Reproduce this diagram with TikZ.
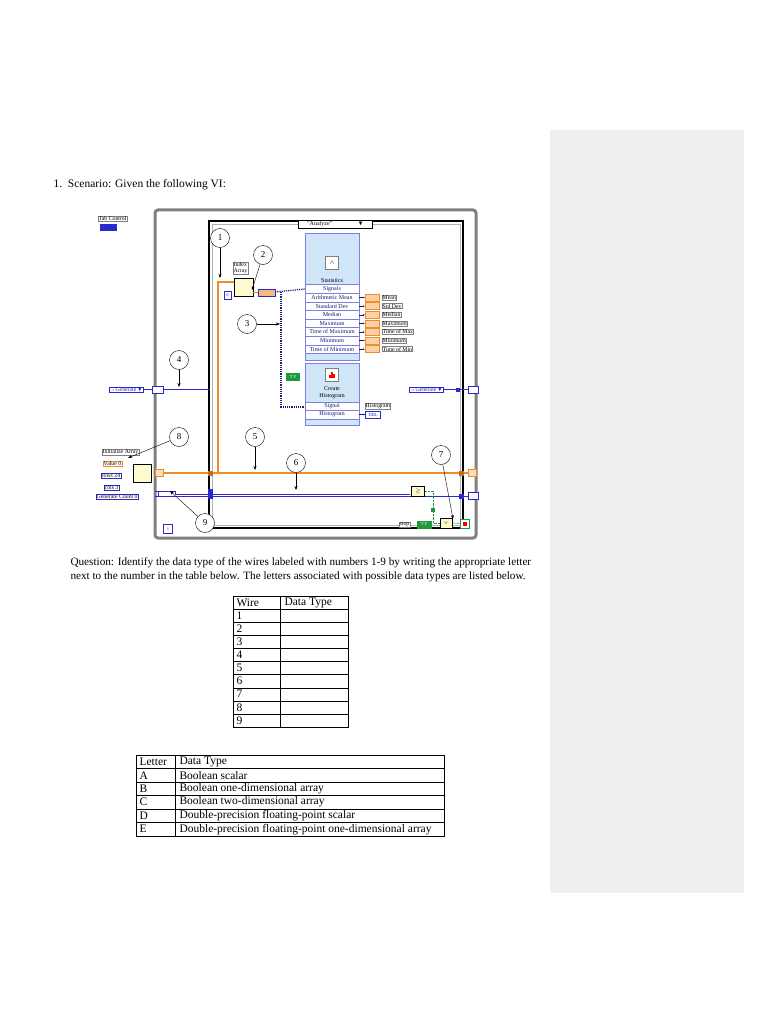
\documentclass[tikz,border=0pt]{standalone}
\usepackage{amssymb}
\usepackage{fontspec}
\setmainfont{Liberation Serif}
\usetikzlibrary{arrows.meta}
\definecolor{lvorange}{HTML}{F28C28}
\definecolor{lvblue}{HTML}{2A2ACC}
\definecolor{lvdark}{HTML}{1A1A7A}
\definecolor{lvpanel}{HTML}{CFE6F8}
\definecolor{lvyellow}{HTML}{FFFBD0}
\definecolor{lvgreen}{HTML}{1E9A3C}
\definecolor{sidegray}{HTML}{EFEFEF}
\tikzset{
  lbl/.style={draw=gray,fill=white,inner sep=0.5pt,font=\fontsize{5.8}{6.2}\selectfont,anchor=west},
  row/.style={draw=lvblue!60,fill=white,minimum width=54pt,minimum height=8.6pt,inner sep=0pt,font=\fontsize{6}{6}\selectfont,text=lvdark},
  ind/.style={draw=lvorange,fill=lvorange!40,minimum width=14pt,minimum height=7pt,inner sep=0pt},
  callout/.style={circle,draw,fill=white,minimum size=19pt,inner sep=0pt,font=\fontsize{9}{9}\selectfont},
  pointer/.style={-{Stealth[length=4pt]},thin},
  owire/.style={lvorange,line width=1.3pt},
  bwire/.style={lvblue,line width=0.7pt},
  body/.style={anchor=west,font=\fontsize{11.5}{12}\selectfont}
}
\begin{document}
\begin{tikzpicture}[x=1pt,y=-1pt]
\useasboundingbox (0,0) rectangle (768,1024);
\fill[sidegray] (550,130) rectangle (744,893);
\node[body] (title) at (50,185) {1.\enspace Scenario: Given the following VI:};

% while loop and case structure
\draw[gray,line width=3pt,rounded corners=3pt] (155,210) rectangle (476,538);
\draw[black,line width=2pt] (209,221) rectangle (463,528);
\draw[gray!60,line width=0.5pt] (212,224) rectangle (460,525);
\node[draw,fill=white,minimum width=74pt,minimum height=8pt,inner sep=0pt,font=\fontsize{6}{6}\selectfont] (sel) at (335,224) {"Analyze"\hspace{26pt}$\blacktriangledown$};
\node[lbl] (tab) at (98,219) {Tab Control};
\node[fill=lvblue,minimum width=17pt,minimum height=7pt,inner sep=0pt] (tabc) at (108,228) {};

% wires (drawn first)
\draw[owire] (155,473) -- (475,473);
\draw[owire] (218,473) -- (218,282) -- (234,282);
\draw[bwire] (163,389) -- (210,389);
\draw[bwire] (155,491) -- (175,491) -- (175,494) -- (410,494);
\draw[bwire] (155,496) -- (475,496);
\draw[bwire] (158,491) -- (158,496);
\draw[lvdark,line width=1.2pt,densely dotted] (275,292) -- (305,289);
\draw[lvdark,line width=1.2pt,densely dotted] (281,292) -- (281,407) -- (305,407);
\draw[lvgreen,densely dotted] (425,491) -- (433,491) -- (433,523) -- (440,523);

% statistics express VI
\node[draw=lvblue!60,fill=lvpanel,minimum width=54pt,minimum height=127pt,inner sep=0pt,anchor=north] (stat) at (332,233) {};
\node[draw=gray,fill=white,minimum size=13pt,inner sep=0pt] (staticon) at (332,263) {\fontsize{6}{6}\selectfont$\wedge$};
\node[font=\fontsize{6}{6}\selectfont] (stattxt) at (332,281) {Statistics};
\foreach \t [count=\i] in {Signals,Arithmetic Mean,Standard Dev,Median,Maximum,Time of Maximum,Minimum,Time of Minimum}
  \node[row] (r\i) at (332,280.3+8.6*\i) {\t};
\foreach \t [count=\i from 2] in {Mean,Std Dev,Median,Maximum,Time of Max,Minimum,Time of Min}{
  \node[ind] (i\i) at (372,280.3+8.6*\i) {};
  \node[lbl] (l\i) at (382,280.3+8.6*\i) {\t};
  \draw[lvdark,-{Stealth[length=2pt]}] (r\i.east) -- (i\i.west);
}

% create histogram express VI
\node[draw=lvblue!60,fill=lvpanel,minimum width=54pt,minimum height=62pt,inner sep=0pt,anchor=north] (hist) at (332,363) {};
\node[draw=gray,fill=white,minimum size=13pt,inner sep=0pt] (histicon) at (332,375) {\textcolor{red}{\rule{2pt}{3pt}\rule{2pt}{6pt}\rule{2pt}{4pt}}};
\node[font=\fontsize{6}{7}\selectfont,align=center] (histtxt) at (332,393) {Create\\Histogram};
\node[row] (h1) at (332,406) {Signal};
\node[row] (h2) at (332,414.6) {Histogram};
\node[lbl] (hl) at (365,406) {Histogram};
\node[draw=lvblue,fill=white,minimum width=15pt,minimum height=7pt,inner sep=0pt,font=\fontsize{4.5}{4.5}\selectfont,text=lvblue] (hi) at (373,414.6) {DBL};
\draw[lvdark,-{Stealth[length=2pt]}] (h2.east) -- (hi.west);
\node[fill=lvgreen,minimum width=14pt,minimum height=8pt,inner sep=0pt,text=white,font=\fontsize{4.5}{4.5}\selectfont] (tf) at (293,377) {T F};

% index array
\node[lbl,align=left] (idxl) at (233,268) {Index\\Array};
\node[draw,fill=lvyellow,minimum width=19pt,minimum height=18pt,inner sep=0pt] (idx) at (243.5,287) {};
\node[draw=lvblue,fill=white,minimum width=7pt,minimum height=8pt,inner sep=0pt,font=\fontsize{4.5}{4.5}\selectfont,text=lvblue] (zero) at (227.5,295) {0};
\node[draw=lvblue,fill=lvorange!60,minimum width=17pt,minimum height=7pt,inner sep=0pt] (idxout) at (266.5,292.5) {};
\draw[owire] (253,292.5) -- (idxout.west);

% generate controls
\node[lbl,draw=lvblue,text=lvblue] (genl) at (109,389.5) {\textrightarrow Generate\,$\blacktriangledown$};
\node[draw=lvblue,fill=white,minimum width=11pt,minimum height=7pt,inner sep=0pt] (genlt) at (157.5,389.5) {};
\node[lbl,draw=lvblue,text=lvblue] (genr) at (409,389.5) {\textrightarrow Generate\,$\blacktriangledown$};
\node[fill=lvblue,minimum size=4pt,inner sep=0pt] (genrs) at (458,389.5) {};
\node[draw=lvblue,fill=white,minimum width=10pt,minimum height=7pt,inner sep=0pt] (genrt) at (473,389.5) {};
\draw[bwire] (genl.east) -- (genlt.west);
\draw[bwire] (genr.east) -- (genrs) -- (genrt.west);

% initialize array
\node[lbl] (initl) at (102,452) {Initialize Array};
\node[lbl,draw=lvorange] (val) at (103,464) {Value 0};
\node[lbl,draw=lvblue] (rows) at (101,476) {rows 24};
\node[lbl,draw=lvblue] (cols) at (104,488) {cols 3};
\node[lbl,draw=lvblue] (gcount) at (96,497) {Generate Count 0};
\node[draw,fill=lvyellow,minimum width=18pt,minimum height=18pt,inner sep=0pt] (init) at (142,473) {};
\node[draw=lvorange,fill=lvorange!30,minimum width=8pt,minimum height=7pt,inner sep=0pt] (ltun) at (159,473) {};
\node[draw=lvorange,fill=lvorange!30,minimum width=8pt,minimum height=7pt,inner sep=0pt] (rtun) at (472,473) {};
\node[fill=lvorange!80!black,minimum size=5pt,inner sep=0pt] (ctun) at (210,473) {};
\node[fill=lvorange!80!black,minimum size=5pt,inner sep=0pt] (ctun2) at (461,473) {};
\foreach \y in {491,496}{
  \node[fill=lvblue,minimum size=5pt,inner sep=0pt] at (210,\y) {};
}
\node[fill=lvblue,minimum size=5pt,inner sep=0pt] (btun) at (461,496) {};
\node[draw=lvblue,fill=white,minimum width=10pt,minimum height=7pt,inner sep=0pt] (btun2) at (473,496) {};
\node[draw,fill=lvyellow,minimum width=13pt,minimum height=10pt,inner sep=0pt,font=\fontsize{5}{5}\selectfont] (cmp) at (418,491) {$\geq$};
\node[fill=lvgreen,minimum size=4pt,inner sep=0pt] (gdot) at (433,510) {};
\node[draw,fill=lvyellow,minimum width=12pt,minimum height=10pt,inner sep=0pt,font=\fontsize{5}{5}\selectfont] (or) at (446,523) {$\vee$};
\node[lbl] (stopl) at (399,524.5) {stop};
\node[fill=lvgreen,minimum width=15pt,minimum height=8pt,inner sep=0pt,text=white,font=\fontsize{4.5}{4.5}\selectfont] (stopc) at (424,524.5) {T F};
\node[draw=lvgreen,fill=white,minimum size=9pt,inner sep=0pt] (stopt) at (465,523.5) {\textcolor{red}{\rule{4pt}{4pt}}};
\node[draw=lvblue,fill=white,minimum size=9pt,inner sep=0pt,font=\fontsize{5}{5}\selectfont,text=lvblue] (iter) at (168,528.5) {i};
\draw[lvgreen] (or.east) -- (stopt.west);

% callouts
\foreach \n/\x/\y in {c1/220/238,c2/263/255,c3/247/324,c4/179/360,c5/255/437,c6/296/463,c7/441/455,c8/179/437,c9/205/523}
  \coordinate (\n) at (\x,\y);
\foreach \n/\t in {c1/1,c2/2,c3/3,c4/4,c5/5,c6/6,c7/7,c8/8,c9/9}
  \node[callout] (n\t) at (\n) {\t};
\coordinate (t1) at (220,278);
\coordinate (t2) at (252,290);
\coordinate (t3) at (280,324);
\coordinate (t4) at (179,387);
\coordinate (t5) at (255,470);
\coordinate (t6) at (296,490);
\coordinate (t7) at (453,519);
\coordinate (t8) at (128,458);
\coordinate (t9) at (170,491);
\foreach \t in {1,...,9}
  \draw[pointer] (n\t) -- (t\t);

% question
\node[anchor=west,font=\fontsize{11.2}{14}\selectfont,align=left] (q) at (67,570) {Question: Identify the data type of the wires labeled with numbers 1-9 by writing the appropriate letter\\next to the number in the table below. The letters associated with possible data types are listed below.};

% table of wires
\draw[line width=0.5pt] (233,596) rectangle (348,727);
\draw (280,596) -- (280,727);
\foreach \i in {1,...,9} \draw (233,596+13.1*\i) -- (348,596+13.1*\i);
\node[body] (w0) at (233,602.5) {Wire};
\node[body] (d0) at (281,602.5) {Data Type};
\foreach \i in {1,...,9}
  \node[body] (w\i) at (233,602.5+13.1*\i) {\i};

% table of letters
\draw[line width=0.5pt] (136,755) rectangle (444,836);
\draw (175,755) -- (175,836);
\foreach \i in {1,...,5} \draw (136,755+13.5*\i) -- (444,755+13.5*\i);
\foreach \l/\t [count=\i from 0] in {Letter/Data Type,A/Boolean scalar,B/Boolean one-dimensional array,C/Boolean two-dimensional array,D/Double-precision floating-point scalar,E/Double-precision floating-point one-dimensional array}{
  \node[body] (k\i) at (136,761.7+13.5*\i) {\l};
  \node[body] (v\i) at (176,761.7+13.5*\i) {\t};
}
\end{tikzpicture}
\end{document}
